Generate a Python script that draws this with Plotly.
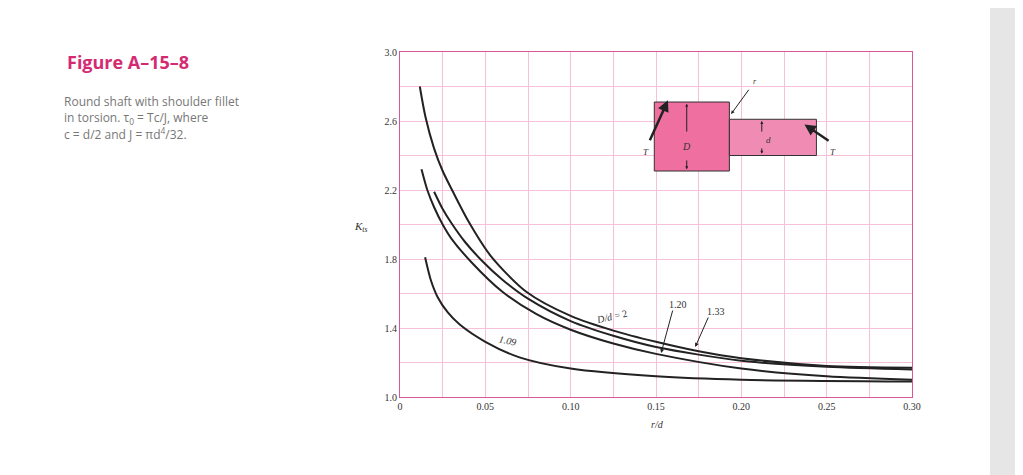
import plotly.graph_objects as go

x_2 = [0.0116, 0.015, 0.02, 0.025, 0.0305, 0.04, 0.053, 0.074, 0.10, 0.125, 0.15, 0.175, 0.20, 0.25, 0.30]
y_2 = [2.80, 2.62, 2.44, 2.31, 2.20, 2.02, 1.82, 1.61, 1.47, 1.385, 1.32, 1.265, 1.225, 1.18, 1.17]
x_133 = [0.02, 0.025, 0.03, 0.038, 0.048, 0.06, 0.075, 0.10, 0.125, 0.15, 0.20, 0.25, 0.30]
y_133 = [2.19, 2.09, 2.01, 1.90, 1.79, 1.68, 1.57, 1.44, 1.355, 1.29, 1.21, 1.175, 1.16]
x_120 = [0.0126, 0.016, 0.02, 0.025, 0.03, 0.042, 0.06, 0.08, 0.10, 0.125, 0.15, 0.20, 0.25, 0.30]
y_120 = [2.32, 2.20, 2.10, 2.00, 1.92, 1.78, 1.61, 1.48, 1.39, 1.31, 1.25, 1.165, 1.12, 1.10]
x_109 = [0.0147, 0.018, 0.022, 0.028, 0.035, 0.05, 0.07, 0.10, 0.15, 0.20, 0.30]
y_109 = [1.81, 1.68, 1.58, 1.49, 1.42, 1.32, 1.23, 1.165, 1.12, 1.10, 1.09]
x_ticks = [0, 0.05, 0.10, 0.15, 0.20, 0.25, 0.30]
x_tick_labels = ["0", "0.05", "0.10", "0.15", "0.20", "0.25", "0.30"]
y_ticks = [1.0, 1.4, 1.8, 2.2, 2.6, 3.0]
y_tick_labels = ["1.0", "1.4", "1.8", "2.2", "2.6", "3.0"]

fig = go.Figure()
for xs, ys in [(x_2, y_2), (x_133, y_133), (x_120, y_120), (x_109, y_109)]:
    fig.add_trace(go.Scatter(x=xs, y=ys, mode="lines", line=dict(color="#222", width=2, shape="spline", smoothing=0.8), showlegend=False, hoverinfo="skip"))

serif = "Liberation Serif"
ann = []
def A(text, x, y, **kw):
    d = dict(text=text, x=x, y=y, showarrow=False, font=dict(family=serif, size=10, color="#333"))
    d.update(kw); ann.append(d)

def px(xp, yp):
    return (xp - 400) / 512, (397 - yp) / 345

def arrow(x, y, ax, ay, size=0.8, width=1):
    ann.append(dict(x=x, y=y, ax=ax, ay=ay, xref="x", yref="y", axref="x", ayref="y", showarrow=True,
                    arrowhead=2, arrowsize=size, arrowwidth=width, arrowcolor="#222", text=""))

tx, ty = px(65, 48)
A("<b>Figure A–15–8</b>", tx, ty, xref="paper", yref="paper", xanchor="left", font=dict(family="Open Sans", size=18, color="#d42a72"))
for i, line in enumerate(["Round shaft with shoulder fillet", "in torsion. τ<sub>0</sub> = Tc/J, where", "c = d/2 and J = πd<sup>4</sup>/32."]):
    tx, ty = px(62, 91 + 16 * i)
    A(line, tx, ty, xref="paper", yref="paper", xanchor="left", font=dict(family="Open Sans", size=12, color="#777"))
tx, ty = px(352, 227)
A("<i>K<sub>ts</sub></i>", tx, ty, xref="paper", yref="paper", font=dict(family=serif, size=11, color="#333"))
tx, ty = px(657, 432)
A("<i>r/d</i>", tx, ty, xref="paper", yref="paper", font=dict(family=serif, size=10, color="#333"))

A("<i>D/d</i> = 2", 0.124, 1.465, textangle=-13)
A("1.20", 0.163, 1.535)
A("1.33", 0.185, 1.495)
A("<i>1.09</i>", 0.063, 1.33, textangle=12)
arrow(0.153, 1.255, 0.16, 1.51)
arrow(0.173, 1.29, 0.181, 1.47)

# inset diagram
A("<i>D</i>", 0.168, 2.45)
A("<i>d</i>", 0.216, 2.49, font=dict(family=serif, size=9, color="#333"))
A("<i>T</i>", 0.144, 2.42, font=dict(family=serif, size=9, color="#333"))
A("<i>T</i>", 0.254, 2.42, font=dict(family=serif, size=9, color="#333"))
A("<i>r</i>", 0.208, 2.83, font=dict(family=serif, size=8, color="#333"))
arrow(0.194, 2.64, 0.205, 2.79, size=0.7)
for (x0, y0, x1, y1) in [(0.168, 2.53, 0.168, 2.70), (0.168, 2.38, 0.168, 2.32), (0.212, 2.53, 0.212, 2.60), (0.212, 2.45, 0.212, 2.41)]:
    arrow(x1, y1, x0, y0, size=0.6)
arrow(0.157, 2.72, 0.146, 2.48, size=0.9, width=2.5)
arrow(0.237, 2.58, 0.252, 2.48, size=0.9, width=2.5)

shapes = [
    dict(type="rect", xref="paper", yref="paper", x0=(990 - 400) / 512, x1=1.3, y0=-0.4, y1=1.3, fillcolor="#e6e6e6", line=dict(width=0), layer="below"),
    dict(type="rect", xref="x", yref="y", x0=0.149, x1=0.193, y0=2.31, y1=2.71, fillcolor="#ee6fa0", line=dict(color="#333", width=1)),
    dict(type="rect", xref="x", yref="y", x0=0.193, x1=0.244, y0=2.40, y1=2.61, fillcolor="#f08cb3", line=dict(color="#333", width=1)),
]

fig.update_layout(
    width=1023, height=475, margin=dict(l=392, r=119, t=44, b=86),
    paper_bgcolor="white", plot_bgcolor="white",
    annotations=ann, shapes=shapes,
    xaxis=dict(range=[0, 0.30], tickvals=x_ticks, ticktext=x_tick_labels, showgrid=False, zeroline=False,
               showline=True, linecolor="#d9569a", mirror=True, ticks="", tickfont=dict(family=serif, size=10, color="#333"),
               minor=dict(dtick=0.025, showgrid=True, gridcolor="#f5c0d8", tick0=0)),
    yaxis=dict(range=[1.0, 3.0], tickvals=y_ticks, ticktext=y_tick_labels, showgrid=False, zeroline=False,
               showline=True, linecolor="#d9569a", mirror=True, ticks="", tickfont=dict(family=serif, size=10, color="#333"),
               minor=dict(dtick=0.2, showgrid=True, gridcolor="#f5c0d8", tick0=1.0)),
)
fig.write_html("out.html")
